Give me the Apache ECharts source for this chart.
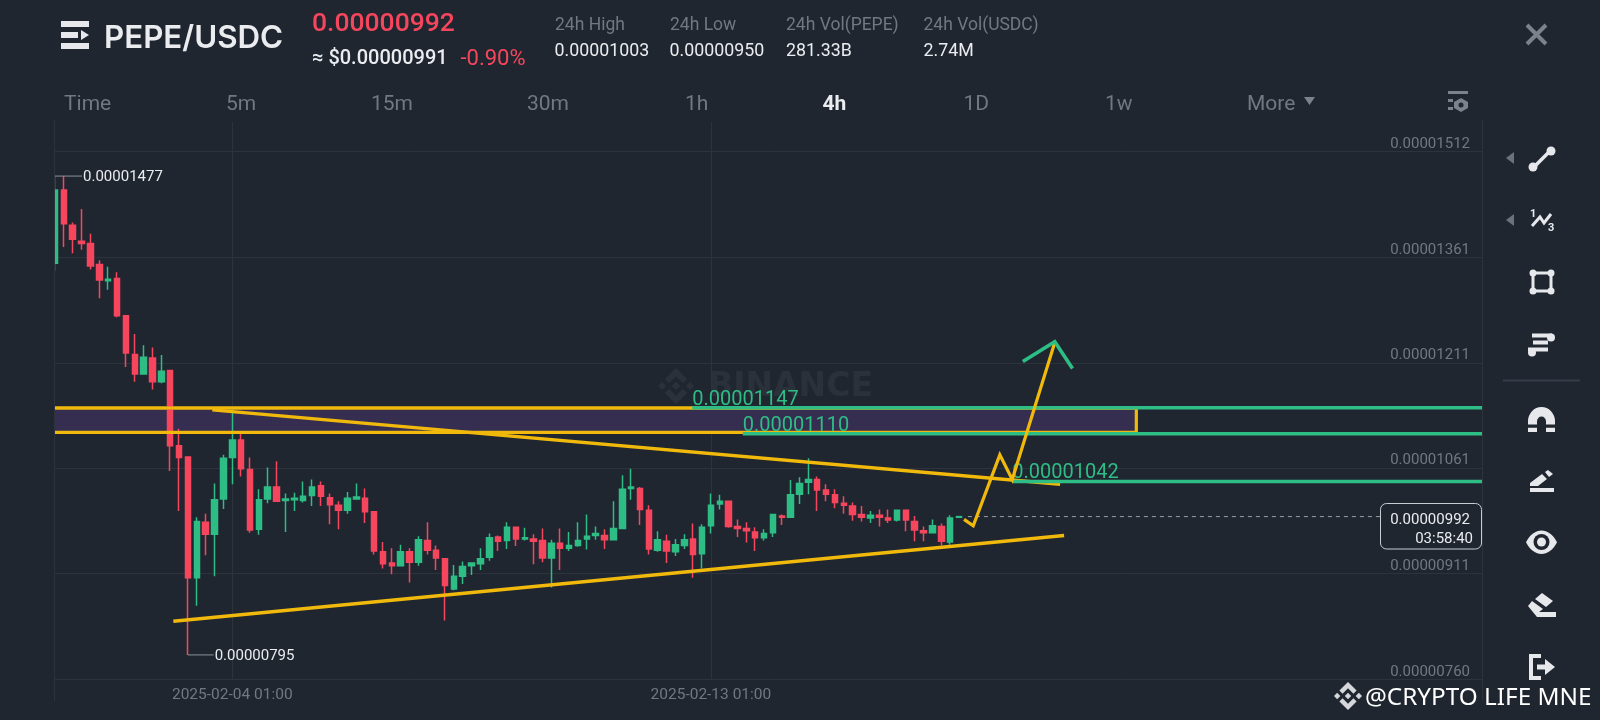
<!DOCTYPE html>
<html>
<head>
<meta charset="utf-8">
<title>PEPE/USDC 4h</title>
<style>
  html, body { margin: 0; padding: 0; background: #1f2630; }
  #chart { width: 1600px; height: 720px; }
</style>
<script src="https://cdn.jsdelivr.net/npm/echarts@6/dist/echarts.min.js"></script>
</head>
<body>
<div id="chart"></div>
<script>
// Prices are stored in units of 0.00000001 USDC.
const opens = [1353,1457,1407,1384,1381,1351,1328,1331,1278,1223,1195,1218,1184,1200,1093,1077,905,984,967,1017,1076,1101,1059,974,1017,1034,1015,1016,1015,1022,1036,1019,1008,1001,1017,1018,999,942,926,922,942,927,958,944,932,889,907,922,925,934,963,958,977,960,960,958,933,954,947,951,960,965,965,959,975,1032,1032,1001,944,957,942,951,960,939,979,1010,1014,978,975,970,962,969,993,991,1024,1041,1045,1030,1023,1011,1007,995,990,994,990,987,1001,985,972,969,978,956,991];
const closes = [1457,1409,1387,1381,1349,1329,1330,1278,1225,1195,1219,1184,1199,1093,1076,905,985,967,1016,1075,1101,1060,973,1016,1034,1014,1017,1018,1021,1034,1021,1009,1001,1018,1020,999,943,925,922,942,927,959,944,933,894,907,921,926,932,962,957,977,960,962,957,933,954,947,951,958,964,968,959,975,1031,1034,1002,946,959,943,952,959,938,977,1008,1014,978,975,972,962,968,995,991,1023,1039,1045,1030,1024,1012,1008,995,991,994,991,987,1001,987,973,969,979,957,990,992];
const lows = [1342,1376,1367,1372,1344,1303,1315,1276,1205,1184,1194,1173,1182,1057,1000,795,865,937,907,1003,1038,1049,969,966,1011,1014,970,1000,1012,1007,1007,981,974,996,1017,983,938,918,910,921,898,922,938,916,844,887,896,909,916,929,943,946,950,958,924,927,891,916,943,949,945,959,946,959,974,1016,980,938,942,926,936,946,905,918,968,1002,976,963,955,943,958,963,980,992,1010,1024,1000,1014,1004,996,986,985,983,978,983,985,971,957,957,969,951,952,991];
const highs = [1477,1477,1411,1430,1395,1357,1348,1340,1279,1252,1236,1233,1222,1201,1117,1078,991,996,1039,1080,1145,1111,1076,1031,1062,1071,1025,1026,1042,1045,1042,1025,1014,1027,1039,1032,999,956,947,952,947,964,984,951,933,923,928,927,947,968,965,984,977,976,967,975,959,975,970,984,995,978,974,1014,1051,1060,1034,1008,971,966,960,967,982,981,1025,1023,1015,988,984,977,974,996,995,1044,1048,1075,1049,1038,1031,1021,1012,1007,1000,1002,1002,1002,1002,993,978,988,982,994,992];

// Time axis: 4-hour bars with empty room on the right for drawings.
const barCount = 162;
const firstBarTime = Date.UTC(2025, 0, 31, 17, 0);
const dateTickLabels = ['2025-02-04 01:00', '2025-02-13 01:00'];
const pad = n => String(n).padStart(2, '0');
const categories = [];
for (let i = 0; i < barCount; i++) {
  const d = new Date(firstBarTime + i * 4 * 3600 * 1000);
  categories.push(`${d.getUTCFullYear()}-${pad(d.getUTCMonth() + 1)}-${pad(d.getUTCDate())} ${pad(d.getUTCHours())}:${pad(d.getUTCMinutes())}`);
}

// Price axis
const priceMin = 760;
const priceMax = 1554;
const priceTicks = [1512, 1361, 1211, 1061, 911, 760];

// Session figures
const highPrice = 1477;
const lowPrice = 795;
const lastPrice = 992;
const resistanceLevels = [
  { price: 1147, from: 71.9 },
  { price: 1110, from: 77.6 },
  { price: 1042, from: 108 }
];

// Hand-drawn analysis, as [bar position, price]
const zoneTop = 1146.7;
const zoneBottom = 1112;
const zoneEnd = 122;
const fallingTrend = [[17.75, 1144], [113.4, 1038]];
const risingTrend = [[13.35, 843], [113.85, 965]];
const projection = [[102.56, 988], [103.6, 979], [106.6, 1080], [108, 1045], [112.8, 1240]];
const arrowHead = [[109.2, 1213], [112.8, 1241], [114.8, 1203]];

const UP = '#2ebd85';
const DOWN = '#f6465d';
const GOLD = '#f0b90b';
const BG = '#1f2630';
const GRID = '#2c333d';
const MUTED = '#717882';
const TEXT = '#eaecef';
const ICON = '#e6e8ec';
const FONT = 'Roboto, "Noto Sans", sans-serif';

const fmt = v => (v / 1e8).toFixed(8);

const candleData = opens.map((o, i) => [o, closes[i], lows[i], highs[i]]);

const overlayLine = (name, data, color, width, extra) => Object.assign({
  name, type: 'line', xAxisIndex: 1, yAxisIndex: 0, data,
  symbol: 'none', silent: true, animation: false, z: 5,
  lineStyle: { color, width, cap: 'butt', join: 'miter' }
}, extra || {});

const levelSeries = resistanceLevels.map(l => overlayLine('level ' + l.price, [
  { value: [l.from, l.price], symbol: 'circle', symbolSize: 0,
    label: { show: true, position: 'top', align: 'left', distance: 0, offset: [0, 2],
             formatter: () => fmt(l.price), color: UP, fontSize: 20, fontFamily: FONT } },
  [161, l.price]
], UP, 3.4, { z: 7 }));

const extremeLabel = (value, fromBar, toBar) => overlayLine('extreme ' + value, [
  [fromBar, value],
  { value: [toBar, value], symbol: 'circle', symbolSize: 0,
    label: { show: true, position: 'right', distance: 1, offset: [0, 1.5], formatter: () => fmt(value),
             color: TEXT, fontSize: 15, fontFamily: FONT } }
], '#8d939b', 1, { z: 6 });

const text = (x, y, str, size, color, style) => ({
  type: 'text', x, y, silent: true, z: 100,
  style: Object.assign({ text: str, fontSize: size, fill: color, fontFamily: FONT,
    verticalAlign: 'middle', align: 'left' }, style || {})
});
const dot = (cx, cy, r, fill) => ({ type: 'circle', silent: true, z: 100, shape: { cx, cy, r }, style: { fill: fill || ICON } });
const vline = (x, y1, y2) => ({ type: 'line', silent: true, z: 4, shape: { x1: x, y1, x2: x, y2 }, style: { stroke: GRID, lineWidth: 1 } });

const icon = (x, y, w, h, pathData, fill) => ({
  type: 'path',
  shape: { pathData, layout: 'cover', x, y, width: w, height: h },
  style: { fill: fill || ICON }
});
const strokeIcon = (x, y, w, h, pathData, stroke, lw) => ({
  type: 'path',
  shape: { pathData, layout: 'cover', x, y, width: w, height: h },
  style: { fill: 'none', stroke: stroke || ICON, lineWidth: lw || 3 }
});

const binanceMark = 'M38.73 53.2L63.3 28.64L87.89 53.22L102.19 38.92L63.3 0L24.43 38.88Z M0 63.31L14.3 49.01L28.6 63.31L14.3 77.61Z M38.73 73.41L63.3 97.97L87.89 73.39L102.19 87.68L63.3 126.61L24.43 87.72L24.41 87.7Z M98.01 63.31L112.31 49.01L126.61 63.31L112.31 77.61Z M77.81 63.3L63.3 48.78L48.8 63.27L63.3 77.77Z';

// Vector glyphs for the page furniture, drawn by custom series.
const toolbarPaths = [
  icon(61, 21, 28, 28, 'M0 0H28V6H0Z M0 11H17V17H0Z M20 9L28 14L20 19Z M0 22H28V28H0Z'),
  strokeIcon(1527, 25, 19, 19, 'M0 0L19 19M19 0L0 19', '#7c828b', 4),
  icon(1304, 97, 11, 8, 'M0 0H11L5.5 8Z', '#7c828b'),
  icon(1448, 91, 20, 21, 'M0 0H20V3H0Z M0 8H5V11H0Z M0 16H5V19H0Z M13 7L20 11V17L13 21L6 17V11Z', '#7c828b'),
  icon(1506, 152, 8, 12, 'M8 0V12L0 6Z', '#6b727c'),
  strokeIcon(1533, 150, 18, 18, 'M0 18L18 0', ICON, 3.5),
  icon(1506, 214, 8, 12, 'M8 0V12L0 6Z', '#6b727c'),
  strokeIcon(1532, 214, 19, 12, 'M0 12L8 3L12 9L19 0', ICON, 3),
  strokeIcon(1533, 273, 18, 18, 'M0 0H18V18H0Z', ICON, 3),
  icon(1528, 333.5, 24, 18, 'M4 0H24V4H4Z M5 7H20V11H5Z M0 14H20V18H0Z'),
  icon(1528, 407, 27, 25, 'M0 15A13.5 13.5 0 0 1 27 15V18H18V15A4.5 4.5 0 0 0 9 15V18H0Z M0 21H9V25H0Z M18 21H27V25H18Z'),
  icon(1530, 470, 24, 22, 'M0 18H24V22H0Z M0 16V13L12 4L17 9L8 16Z M15 2L18 0L23 4L19 7Z'),
  icon(1526, 530.5, 31, 23.5, 'M0 11.75C8 -4 23 -4 31 11.75C23 27.5 8 27.5 0 11.75Z'),
  icon(1528, 593, 28, 24, 'M14 0L25 8L18 14L7 6Z M4 8L15 16L11 19H28V24H9L0 13Z'),
  icon(1529, 654, 26, 26, 'M0 0H12V4H4V22H12V26H0Z M8 10.5H16V5L26 13L16 21V15.5H8Z'),
  icon(1334, 682, 28, 28, binanceMark, '#d5d7db')
];
const watermarkPaths = [
  icon(658, 368, 36, 36, binanceMark, 'rgba(255,255,255,0.055)')
];
const pathSeries = (name, children, z) => ({
  name, type: 'custom', coordinateSystem: 'none', data: [0], silent: true, z,
  renderItem: () => ({ type: 'group', children })
});

const graphics = [
  // Left margin cover so the opening candle is cut at the plot edge
  { type: 'rect', silent: true, z: 3, shape: { x: 0, y: 120, width: 54.5, height: 581 }, style: { fill: BG } },

  // Plot frame
  vline(54.5, 120, 701), vline(1482.5, 120, 701),

  // Header
  text(104, 39, 'PEPE/USDC', 31.3, TEXT, { fontWeight: 600, fontFamily: 'Inter, Roboto, sans-serif' }),
  text(312, 24, fmt(lastPrice), 26.5, DOWN, { fontWeight: 500 }),
  text(312, 59, '≈ $0.00000991', 20, TEXT, { fontWeight: 500 }),
  text(460.5, 59, '-0.90%', 22, DOWN),
  text(555, 26, '24h High', 17.5, MUTED), text(554.5, 52, '0.00001003', 17.8, TEXT),
  text(670, 26, '24h Low', 17.5, MUTED), text(669.5, 52, '0.00000950', 17.8, TEXT),
  text(786, 26, '24h Vol(PEPE)', 17.5, MUTED), text(786, 52, '281.33B', 17.8, TEXT),
  text(923.5, 26, '24h Vol(USDC)', 17.5, MUTED), text(923.5, 52, '2.74M', 17.8, TEXT),

  // Interval tabs
  text(64, 104.5, 'Time', 21, MUTED), text(226, 104.5, '5m', 21, MUTED),
  text(371, 104.5, '15m', 21, MUTED), text(527, 104.5, '30m', 21, MUTED),
  text(685, 104.5, '1h', 21, MUTED),
  text(822.5, 104.5, '4h', 21, TEXT, { fontWeight: 700 }),
  text(963.5, 104.5, '1D', 21, MUTED), text(1105, 104.5, '1w', 21, MUTED),
  text(1247, 104.5, 'More', 21, MUTED),

  // Drawing toolbar details
  dot(1533, 167, 4.5), dot(1551, 151, 4.5),
  text(1530, 214, '1', 11, ICON, { fontWeight: 700 }),
  text(1548, 228, '3', 11, ICON, { fontWeight: 700 }),
  dot(1533, 273, 3.5), dot(1551, 273, 3.5), dot(1533, 291, 3.5), dot(1551, 291, 3.5),
  dot(1551, 337.5, 4), dot(1532, 352.5, 4),
  { type: 'line', silent: true, z: 100, shape: { x1: 1503, y1: 380.5, x2: 1580, y2: 380.5 }, style: { stroke: '#363d48', lineWidth: 2 } },
  dot(1541.5, 542, 8, BG), dot(1541.5, 542, 4.5),
  dot(1461, 105, 2.5, BG),

  // Current price tag
  { type: 'rect', silent: true, z: 100, shape: { x: 1380.5, y: 503.5, width: 101, height: 45.5, r: 6 },
    style: { fill: BG, stroke: '#c9cdd2', lineWidth: 1 } },
  text(1470, 520, fmt(lastPrice), 15, TEXT, { align: 'right' }),
  text(1473, 539.5, '03:58:40', 15, TEXT, { align: 'right' }),

  // Exchange name behind the candles
  { type: 'text', x: 708, y: 387, silent: true, z: 0,
    style: { text: 'BINANCE', fontSize: 33, fontWeight: 700, fill: 'rgba(255,255,255,0.055)', fontFamily: '"DejaVu Sans", sans-serif', verticalAlign: 'middle' } },

  // Author credit
  text(1365, 698, '@CRYPTO LIFE MNE', 24.3, '#ffffff', { fontFamily: '"Noto Sans", "Open Sans", sans-serif' })
];

const option = {
  backgroundColor: BG,
  animation: false,
  grid: { left: 55, right: 118, top: 122, bottom: 40.5, containLabel: false },
  xAxis: [
    { type: 'category', data: categories, boundaryGap: false,
      axisLine: { show: false }, axisTick: { show: false },
      axisLabel: {
        interval: (i, v) => dateTickLabels.includes(v),
        color: MUTED, fontSize: 15.5, fontFamily: FONT, margin: 8
      },
      splitLine: { show: true, interval: (i, v) => dateTickLabels.includes(v), lineStyle: { color: GRID, width: 1 } }
    },
    { type: 'value', min: 0, max: barCount - 1, show: false }
  ],
  yAxis: {
    type: 'value', position: 'right', min: priceMin, max: priceMax, scale: true,
    axisLine: { show: false },
    axisTick: { show: false, customValues: priceTicks },
    axisLabel: {
      inside: true, margin: 12, customValues: priceTicks,
      formatter: v => fmt(v), color: MUTED, fontSize: 15, fontFamily: FONT,
      verticalAlign: 'bottom'
    },
    splitLine: { show: true, lineStyle: { color: GRID, width: 1 } }
  },
  series: [
    pathSeries('exchange mark', watermarkPaths, 0),
    { name: 'PEPE/USDC', type: 'candlestick', xAxisIndex: 0, yAxisIndex: 0, data: candleData,
      barWidth: 6, z: 2, silent: true,
      itemStyle: { color: UP, color0: DOWN, borderColor: UP, borderColor0: DOWN, borderWidth: 1.5 } },

    // Supply zone fill
    overlayLine('zone', [[0, zoneTop], [zoneEnd, zoneTop]], GOLD, 3, {
      z: 1,
      markArea: {
        silent: true, z: 1,
        itemStyle: { color: '#362e51' },
        data: [[{ xAxis: 0, yAxis: zoneTop }, { xAxis: zoneEnd, yAxis: zoneBottom }]]
      }
    }),
    overlayLine('zone outline', [[0, zoneTop], [zoneEnd, zoneTop], [zoneEnd, zoneBottom], [0, zoneBottom]], GOLD, 3.2, { z: 5 }),

    overlayLine('falling trend', fallingTrend, GOLD, 3.5),
    overlayLine('rising trend', risingTrend, GOLD, 3.5),
    overlayLine('projection', projection, GOLD, 3.2, { z: 8 }),
    overlayLine('arrow head', arrowHead, UP, 3.6, { z: 8 }),
    ...levelSeries,

    extremeLabel(highPrice, 0, 3.05),
    extremeLabel(lowPrice, 15, 17.9),

    // Last price guide
    overlayLine('last price', [[103, lastPrice], [149.6, lastPrice]], '#9aa0a8', 1, {
      z: 3, lineStyle: { color: '#9aa0a8', width: 1, type: [4, 4] }
    }),

    pathSeries('toolbar glyphs', toolbarPaths, 50)
  ],
  graphic: { elements: graphics }
};

const chart = echarts.init(document.getElementById('chart'), null, { renderer: 'canvas' });
chart.setOption(option);
</script>
</body>
</html>
